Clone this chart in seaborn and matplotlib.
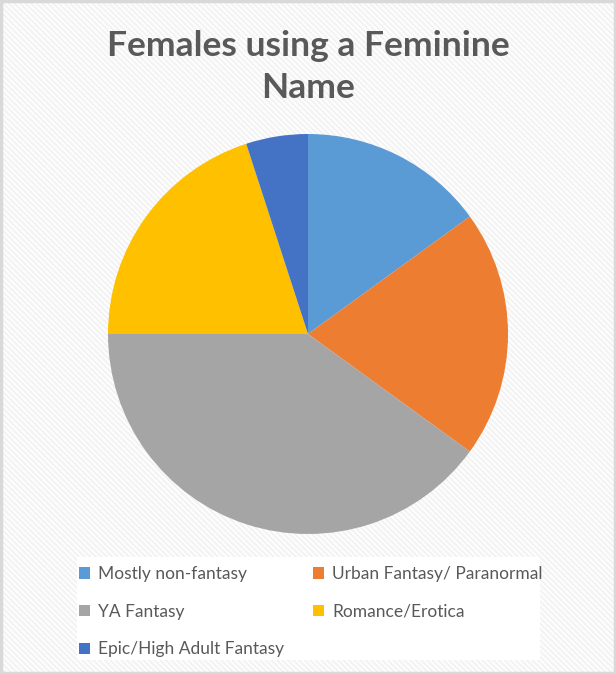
import matplotlib
matplotlib.use("Agg")
import matplotlib.pyplot as plt
import seaborn as sns
from matplotlib.patches import Rectangle, Patch

sns.set_theme(style="white")
plt.rcParams['font.family'] = ['Lato', 'DejaVu Sans']

categories = ['Mostly non-fantasy', 'Urban Fantasy/ Paranormal', 'YA Fantasy',
              'Romance/Erotica', 'Epic/High Adult Fantasy']
shares = [15, 20, 40, 20, 5]
colors = ['#5B9BD5', '#ED7D31', '#A5A5A5', '#FFC000', '#4472C4']

W, H = 616, 674
fig = plt.figure(figsize=(W / 100, H / 100), dpi=100)
plt.rcParams['hatch.linewidth'] = 1.6

# striped chart area background with a gray frame
fig.patches.append(Rectangle((0, 0), 1, 1, transform=fig.transFigure,
                             facecolor='white', edgecolor='#f3f3f3',
                             hatch='\\\\\\\\\\\\', linewidth=0, zorder=-3))
fig.patches.append(Rectangle((0.0015, 0.0015), 0.997, 0.997, transform=fig.transFigure,
                             facecolor='none', edgecolor='#d9d9d9',
                             linewidth=2.5, zorder=5))

fig.text(308 / W, 1 - 67 / H, 'Females using a Feminine\nName', ha='center', va='center',
         fontsize=25.5, fontweight='bold', color='#595959', linespacing=1.38)

# pie area
cx, cy, r = 308, 334, 200
ax = fig.add_axes([(cx - r) / W, 1 - (cy + r) / H, 2 * r / W, 2 * r / H])
ax.pie(shares, colors=colors, startangle=90, counterclock=False,
       wedgeprops=dict(linewidth=0))
ax.set_xlim(-1, 1)
ax.set_ylim(-1, 1)
ax.set_aspect('auto')
ax.axis('off')

# legend box (row-wise order like the original)
fig.patches.append(Rectangle((77 / W, 1 - 660 / H), 463 / W, 103 / H,
                             transform=fig.transFigure, facecolor='white',
                             edgecolor='none', zorder=-2))
order = [0, 2, 4, 1, 3]
handles = [Patch(facecolor=colors[i], edgecolor='none') for i in order]
labels = [categories[i] for i in order]
leg = fig.legend(handles, labels, ncol=2, loc='upper left',
                 bbox_to_anchor=(79 / W, 1 - 566 / H), frameon=False,
                 fontsize=12.5, handlelength=0.65, handleheight=0.65,
                 handletextpad=0.45, columnspacing=1.65, labelspacing=1.25,
                 borderaxespad=0, borderpad=0)
for t in leg.get_texts():
    t.set_color('#595959')

fig.savefig('out.png', dpi=100)
